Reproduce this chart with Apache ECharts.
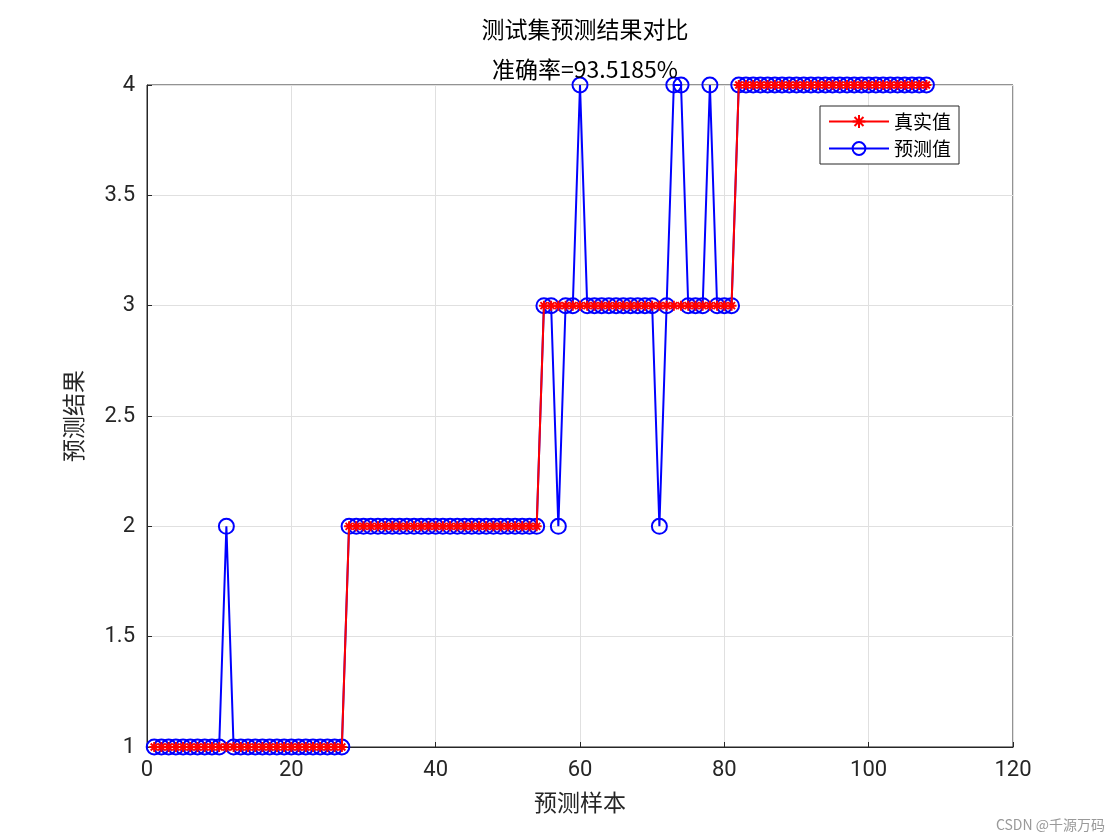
<!DOCTYPE html>
<html><head><meta charset="utf-8">
<script src="https://cdn.jsdelivr.net/npm/echarts@6/dist/echarts.min.js"></script>
<style>html,body{margin:0;padding:0;background:#fff}#c{width:1117px;height:840px}</style>
</head><body><div id="c"></div>
<script>
const sampleCount = 108;
const trueClassBlocks = [1, 2, 3, 4]; // each block 27 samples
const blockSize = 27;
const predErrors = [[11, 2], [57, 2], [60, 4], [71, 2], [73, 4], [74, 4], [78, 4]];
const yTicks = [1, 1.5, 2, 2.5, 3, 3.5, 4];

const trueVals = [], predVals = [];
for (let i = 1; i <= sampleCount; i++) {
  trueVals.push([i, trueClassBlocks[Math.floor((i - 1) / blockSize)]]);
}
const errMap = new Map(predErrors);
for (let i = 1; i <= sampleCount; i++) {
  predVals.push([i, errMap.has(i) ? errMap.get(i) : trueVals[i - 1][1]]);
}
const F = 'Noto Sans CJK SC';
const star = 'path://M0,-5L0,5M-5,0L5,0M-3.5,-3.5L3.5,3.5M-3.5,3.5L3.5,-3.5';
const chart = echarts.init(document.getElementById('c'));
chart.setOption({
  animation: false,
  title: { text: '测试集预测结果对比\n准确率=93.5185%', left: 580, top: 4, textAlign: 'center',
    textStyle: { fontFamily: F, fontSize: 23, fontWeight: 'normal', color: '#000', lineHeight: 40 } },
  grid: { left: 147, right: 104, top: 85, bottom: 93, show: true, borderColor: '#262626', borderWidth: 1 },
  legend: { left: 820, top: 106, orient: 'vertical', backgroundColor: '#fff', borderColor: '#262626', borderWidth: 1,
    padding: [6, 8], itemGap: 8, itemWidth: 60, itemHeight: 16,
    textStyle: { fontFamily: F, fontSize: 19, color: '#000' },
    data: ['真实值', '预测值'] },
  xAxis: { type: 'value', min: 0, max: 120, interval: 20, name: '预测样本', nameLocation: 'middle', nameGap: 44,
    nameTextStyle: { fontFamily: F, fontSize: 23, color: '#262626' },
    axisLine: { lineStyle: { color: '#262626' } }, axisTick: { inside: true, lineStyle: { color: '#262626' } },
    axisLabel: { fontFamily: 'Roboto', fontSize: 22, color: '#262626', margin: 12 },
    splitLine: { show: true, lineStyle: { color: '#e0e0e0' } } },
  yAxis: { type: 'value', min: 1, max: 4, interval: 0.5, name: '预测结果', nameLocation: 'middle', nameGap: 62,
    nameTextStyle: { fontFamily: F, fontSize: 23, color: '#262626' },
    axisLine: { show: true, lineStyle: { color: '#262626' } }, axisTick: { show: true, inside: true, lineStyle: { color: '#262626' } },
    axisLabel: { fontFamily: 'Roboto', fontSize: 22, color: '#262626', margin: 12 },
    splitLine: { show: true, lineStyle: { color: '#e0e0e0' } } },
  series: [
    { name: '真实值', type: 'line', z: 3, data: trueVals, symbol: star, symbolSize: 10,
      lineStyle: { color: '#ff0000', width: 2 }, itemStyle: { color: '#ff0000', borderColor: '#ff0000', borderWidth: 2 } },
    { name: '预测值', type: 'line', z: 2, data: predVals, symbol: 'circle', symbolSize: 15,
      lineStyle: { color: '#0000ff', width: 2 }, itemStyle: { color: 'rgba(0,0,0,0)', borderColor: '#0000ff', borderWidth: 2 } }
  ],
  graphic: [{ type: 'text', right: 12, bottom: 8, style: { text: 'CSDN @千源万码', fontFamily: F, fontSize: 14, fill: '#999' } }]
});
</script></body></html>
